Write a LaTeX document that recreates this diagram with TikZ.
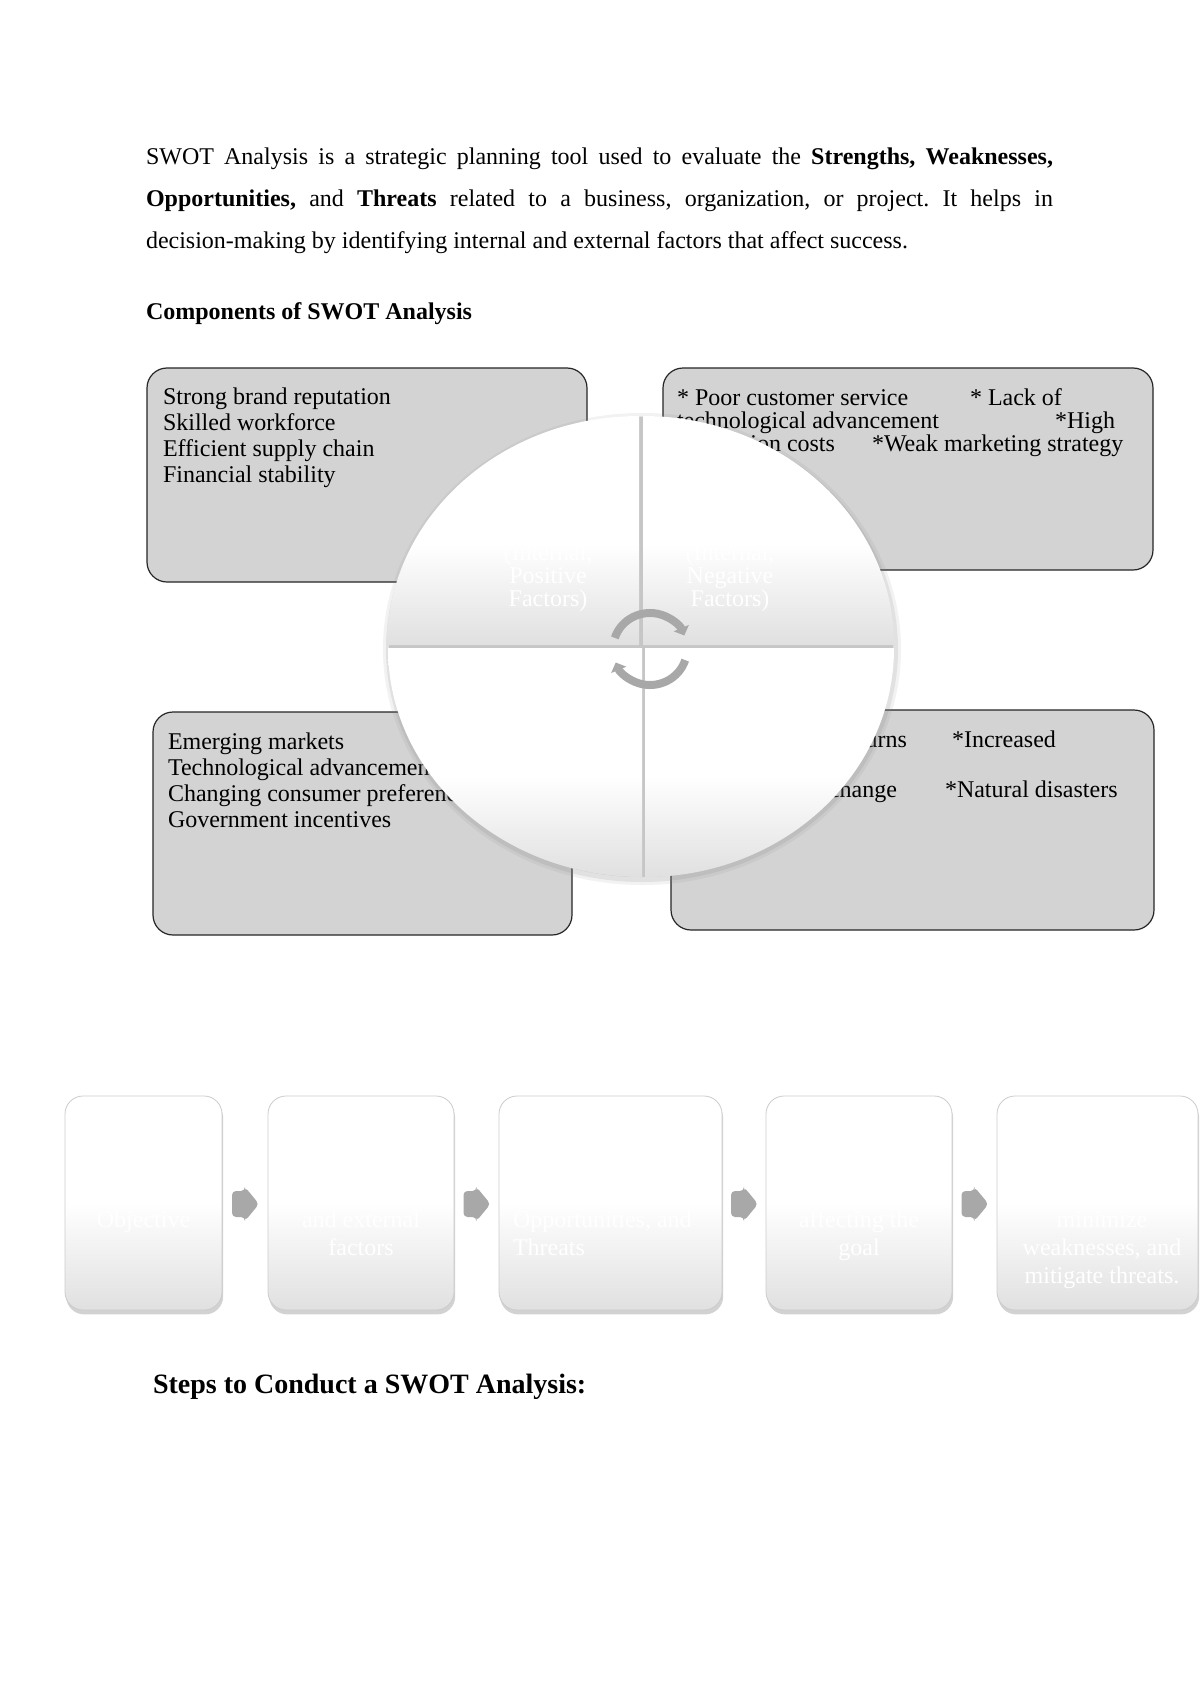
\documentclass[tikz,border=0pt]{standalone}
\usepackage{fontspec}
\setmainfont{Liberation Serif}
\usetikzlibrary{calc,arrows.meta,shadows}
\definecolor{boxgray}{RGB}{211,211,211}
\definecolor{arrowgray}{RGB}{168,168,168}
\definecolor{shadebottom}{RGB}{224,224,224}
\definecolor{gapgray}{RGB}{198,198,198}
\pgfdeclareverticalshading{quadshade}{100bp}{color(0bp)=(shadebottom); color(25bp)=(shadebottom); color(47bp)=(white); color(100bp)=(white)}
\pgfdeclareverticalshading{stepshade}{100bp}{color(0bp)=(shadebottom); color(25bp)=(shadebottom); color(50bp)=(white); color(100bp)=(white)}
\frenchspacing
\begin{document}
\begin{tikzpicture}[x=0.5pt,y=0.5pt,
  every node/.style={inner sep=0pt, outer sep=0pt},
  txt/.style={anchor=base west, font=\fontsize{12}{14}\selectfont},
  ctxt/.style={anchor=base, font=\fontsize{12}{14}\selectfont, text=white},
  swotbox/.style={draw=black!85, line width=0.6pt, fill=boxgray, rounded corners=10pt},
  quad/.style={shade, shading=quadshade},
  stepbox/.style={shade, shading=stepshade, draw=gray!40, line width=0.4pt, rounded corners=9pt,
    drop shadow={shadow xshift=0.6pt, shadow yshift=-2.2pt, opacity=0.35, fill=gray}},
  chevron/.style={fill=arrowgray, rounded corners=2pt},
  cyclearrow/.style={draw=arrowgray, line width=4pt, -{Triangle[width=8pt,length=4pt]}}
]
\useasboundingbox (0,0) rectangle (1200,-1696);
\fill[white] (0,0) rectangle (1200,-1696);

% ---- introduction text
\node[txt] (p1) at (146,-165) {\makebox[453.5pt][s]{SWOT Analysis is a strategic planning tool used to evaluate the \textbf{Strengths, Weaknesses,}}};
\node[txt] (p2) at (146,-207) {\makebox[453.5pt][s]{\textbf{Opportunities,} and \textbf{Threats} related to a business, organization, or project. It helps in}};
\node[txt] (p3) at (146,-249) {decision-making by identifying internal and external factors that affect success.};
\node[txt, font=\fontsize{12}{14}\selectfont\bfseries] (h1) at (146,-319) {Components of SWOT Analysis};

% ---- SWOT boxes
\node[swotbox, minimum width=220pt, minimum height=107pt] (S) at (367,-475) {};
\node[swotbox, minimum width=245pt, minimum height=101pt] (W) at (908,-469) {};
\node[swotbox, minimum width=209.5pt, minimum height=111.5pt] (O) at (362.5,-823.5) {};
\node[swotbox, minimum width=241.5pt, minimum height=110pt] (T) at (912.5,-820) {};

\node[txt] (s1t) at (163,-404) {Strong brand reputation};
\node[txt] (s2t) at (163,-430) {Skilled workforce};
\node[txt] (s3t) at (163,-456) {Efficient supply chain};
\node[txt] (s4t) at (163,-482) {Financial stability};

\node[txt] (w1a) at (677,-405) {* Poor customer service};
\node[txt] (w1b) at (970,-405) {* Lack of};
\node[txt] (w2a) at (677,-428) {technological advancement};
\node[txt] (w2b) at (1055,-428) {*High};
\node[txt] (w3a) at (677,-451) {production costs};
\node[txt] (w3b) at (872,-451) {*Weak marketing strategy};

\node[txt] (o1t) at (168,-749) {Emerging markets};
\node[txt] (o2t) at (168,-775) {Technological advancements};
\node[txt] (o3t) at (168,-801) {Changing consumer preferences};
\node[txt] (o4t) at (168,-827) {Government incentives};

\node[txt, anchor=base east] (t1a) at (907,-747) {Economic downturns};
\node[txt] (t1b) at (952,-747) {*Increased};
\node[txt, anchor=base east] (t3a) at (897,-797) {Regulatory change};
\node[txt] (t3b) at (945,-797) {*Natural disasters};

% ---- central circle
\coordinate (cc) at (641,-647);
\fill[gray, opacity=0.10] ($(cc)+(1,-2)$) ellipse[x radius=259, y radius=236];
\fill[gray, opacity=0.15] ($(cc)+(1,-2)$) ellipse[x radius=256, y radius=233];
\fill[gapgray] (cc) ellipse[x radius=252, y radius=230];

\path[quad] (639,-645) -- (639,-416) arc[start angle=90, end angle=180, x radius=252, y radius=229] -- cycle;
\path[quad] (643,-645) -- (894,-645) arc[start angle=0, end angle=90, x radius=251, y radius=229] -- cycle;
\path[quad] (642,-648) -- (642,-877) arc[start angle=270, end angle=180, x radius=254, y radius=229] -- cycle;
\path[quad] (645,-648) -- (645,-877) arc[start angle=270, end angle=360, x radius=249, y radius=229] -- cycle;

\node[ctxt] (q1a) at (548,-560) {(Internal,};
\node[ctxt] (q1b) at (548,-583) {Positive};
\node[ctxt] (q1c) at (548,-606) {Factors)};
\node[ctxt] (q2a) at (730,-560) {(Internal,};
\node[ctxt] (q2b) at (730,-583) {Negative};
\node[ctxt] (q2c) at (730,-606) {Factors)};

\coordinate (ac) at (650,-649);
\draw[cyclearrow] ($(ac)+(162:37 and 36)$) arc[start angle=162, end angle=22, x radius=37, y radius=36];
\draw[cyclearrow] ($(ac)+(-18:37 and 36)$) arc[start angle=-18, end angle=-158, x radius=37, y radius=36];

% ---- steps
\node[stepbox, minimum width=78.5pt, minimum height=107pt] (st1) at (143.5,-1203) {};
\node[stepbox, minimum width=93pt, minimum height=107pt] (st2) at (361,-1203) {};
\node[stepbox, minimum width=111.5pt, minimum height=107pt] (st3) at (610.5,-1203) {};
\node[stepbox, minimum width=93pt, minimum height=107pt] (st4) at (859,-1203) {};
\node[stepbox, minimum width=100.5pt, minimum height=107pt] (st5) at (1097.5,-1203) {};

\foreach \a/\b/\n in {st1/st2/m1, st2/st3/m2, st3/st4/m3, st4/st5/m4}{
  \coordinate (\n) at ($(\a.east)!0.5!(\b.west)+(0,-1)$);
  \fill[chevron, shift={(\n)}] (-13,13) -- (0,13) -- (0,17) -- (14,0) -- (0,-17) -- (0,-13) -- (-13,-13) -- cycle;
}

\node[ctxt] (x1) at (143.5,-1227) {Objective};
\node[ctxt] (x2a) at (361,-1227) {and external};
\node[ctxt] (x2b) at (361,-1255) {factors};
\node[ctxt, anchor=base west] (x3a) at (513,-1227) {Opportunities, and};
\node[ctxt, anchor=base west] (x3b) at (513,-1255) {Threats};
\node[ctxt] (x4a) at (859,-1227) {affecting the};
\node[ctxt] (x4b) at (859,-1255) {goal};
\node[ctxt] (x5a) at (1102,-1227) {minimize};
\node[ctxt] (x5b) at (1102,-1255) {weaknesses, and};
\node[ctxt] (x5c) at (1102,-1283) {mitigate threats.};

\node[txt, font=\fontsize{14}{16}\selectfont\bfseries] (h2) at (153,-1393) {Steps to Conduct a SWOT Analysis:};
\end{tikzpicture}
\end{document}
